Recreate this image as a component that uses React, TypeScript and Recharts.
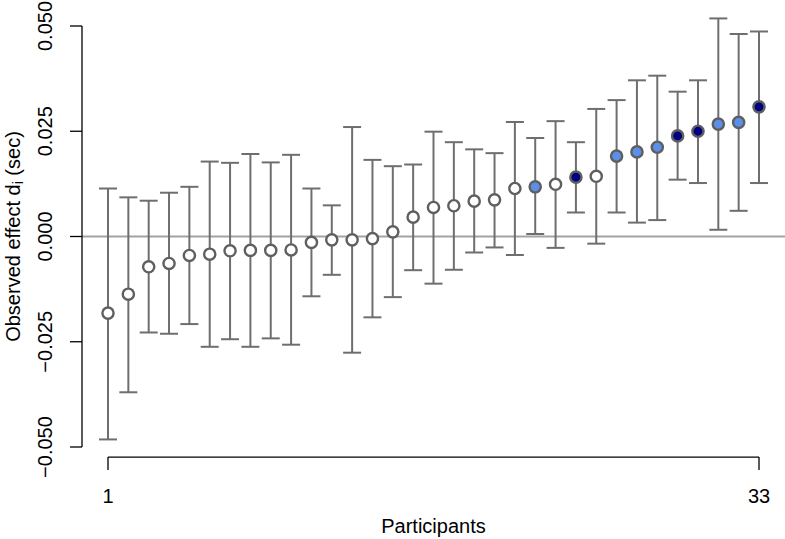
// Observed effect per participant with confidence intervals (Recharts scatter + error bars)
import { ComposedChart, Scatter, ErrorBar, XAxis, YAxis, ReferenceLine } from 'recharts';

const participants = [
  1, 2, 3, 4, 5, 6, 7, 8, 9, 10, 11, 12, 13, 14, 15, 16, 17,
  18, 19, 20, 21, 22, 23, 24, 25, 26, 27, 28, 29, 30, 31, 32, 33,
];

// observed effect d_i (sec)
const effects = [
  -0.0182, -0.0137, -0.0072, -0.0064, -0.0045, -0.0042, -0.0034, -0.0033, -0.0033, -0.0032, -0.0014,
  -0.0008, -0.0008, -0.0005, 0.0011, 0.0046, 0.0069, 0.0073, 0.0084, 0.0087, 0.0114, 0.0118,
  0.0124, 0.0141, 0.0143, 0.0191, 0.0201, 0.0212, 0.0239, 0.025, 0.0267, 0.0271, 0.0308,
];

const lowerCI = [
  -0.0482, -0.037, -0.0228, -0.0231, -0.0208, -0.0262, -0.0244, -0.0262, -0.0242, -0.0257, -0.0142,
  -0.0091, -0.0276, -0.0192, -0.0144, -0.008, -0.0112, -0.0079, -0.0038, -0.0026, -0.0044, 0.0006,
  -0.0027, 0.0057, -0.0017, 0.0057, 0.0033, 0.0039, 0.0135, 0.0127, 0.0016, 0.0061, 0.0127,
];

const upperCI = [
  0.0114, 0.0093, 0.0085, 0.0104, 0.0118, 0.0178, 0.0175, 0.0196, 0.0176, 0.0194, 0.0114,
  0.0074, 0.026, 0.0182, 0.0167, 0.0171, 0.0249, 0.0224, 0.0207, 0.0198, 0.0272, 0.0234,
  0.0274, 0.0224, 0.0303, 0.0324, 0.0371, 0.0382, 0.0344, 0.0371, 0.0518, 0.0481, 0.0487,
];

// marker fill group: none / light / dark
const groups = [
  'none', 'none', 'none', 'none', 'none', 'none', 'none', 'none', 'none', 'none', 'none',
  'none', 'none', 'none', 'none', 'none', 'none', 'none', 'none', 'none', 'none', 'light',
  'none', 'dark', 'none', 'light', 'light', 'light', 'dark', 'dark', 'light', 'light', 'dark',
];

const yTicks = [-0.05, -0.025, 0, 0.025, 0.05];
const xTicks = [1, 33];
const xAxisFloor = -0.0524; // where the detached x axis line sits

const FONT = '"Liberation Sans", Arial, Helvetica, sans-serif';
const fills: Record<string, string> = { none: '#ffffff', light: '#5b8fea', dark: '#000080' };

const data = participants.map((p, i) => ({
  participant: p,
  effect: effects[i],
  err: [effects[i] - lowerCI[i], upperCI[i] - effects[i]],
  group: groups[i],
}));

const fmtY = (v: number) => {
  const s = Math.abs(v).toFixed(3);
  return v < 0 ? `\u2212${s}` : s;
};

const YTick = ({ x, y, payload }: any) => (
  <text
    x={x - 25}
    y={y}
    transform={`rotate(-90 ${x - 25} ${y})`}
    textAnchor="middle"
    dominantBaseline="central"
    fontSize={20}
    fontFamily={FONT}
    fill="#000"
  >
    {fmtY(payload.value)}
  </text>
);

const XTick = ({ x, y, payload }: any) => (
  <g>
    <line x1={x} y1={y + 10} x2={x} y2={y + 23} stroke="#000" strokeWidth={1.3} />
    <text x={x} y={y + 49} textAnchor="middle" dominantBaseline="central" fontSize={20} fontFamily={FONT} fill="#000">
      {payload.value}
    </text>
  </g>
);

const YTitle = ({ viewBox }: any) => {
  const cx = 13;
  const cy = viewBox.y + viewBox.height / 2;
  return (
    <text
      x={cx}
      y={cy}
      transform={`rotate(-90 ${cx} ${cy})`}
      textAnchor="middle"
      dominantBaseline="central"
      fontSize={20}
      fontFamily={FONT}
      fill="#000"
    >
      Observed effect d
      <tspan dy={5} fontSize={14}>i</tspan>
      <tspan dy={-5}> (sec)</tspan>
    </text>
  );
};

const Dot = ({ cx, cy, payload }: any) => (
  <circle cx={cx} cy={cy} r={5.6} fill={fills[payload.group]} stroke="#5f5f5f" strokeWidth={2.4} />
);

export default function App() {
  return (
    <div style={{ position: 'absolute', left: 0, top: 0, background: '#fff' }}>
      <style>{'.effect-points{clip-path:none !important}'}</style>
      <ComposedChart width={785} height={539} data={data} margin={{ top: 26, right: 0, bottom: 0, left: 0 }}>
        <XAxis
          type="number"
          dataKey="participant"
          domain={[1, 33]}
          ticks={xTicks}
          padding={{ left: 26, right: 26 }}
          axisLine={false}
          tickLine={false}
          tickSize={0}
          tickMargin={0}
          tick={<XTick />}
          height={92}
          label={{ value: 'Participants', position: 'insideBottom', offset: 6, fontSize: 20, fill: '#000', fontFamily: FONT }}
        />
        <YAxis
          type="number"
          domain={[-0.05, 0.05]}
          allowDataOverflow
          ticks={yTicks}
          width={82}
          axisLine={{ stroke: '#000', strokeWidth: 1.3 }}
          tickLine={{ stroke: '#000', strokeWidth: 1.3 }}
          tickSize={12}
          tickMargin={0}
          tick={<YTick />}
          label={(props: any) => <YTitle {...props} />}
        />
        <ReferenceLine y={0} stroke="#a3a3a3" strokeWidth={2} />
        <ReferenceLine
          segment={[{ x: 1, y: xAxisFloor }, { x: 33, y: xAxisFloor }]}
          stroke="#000"
          strokeWidth={1.3}
          ifOverflow="visible"
        />
        <Scatter
          className="effect-points"
          dataKey="effect"
          shape={<Dot />}
          isAnimationActive={false}
        >
          <ErrorBar dataKey="err" direction="y" width={9} stroke="#6e6e6e" strokeWidth={2} isAnimationActive={false} />
        </Scatter>
      </ComposedChart>
    </div>
  );
}
